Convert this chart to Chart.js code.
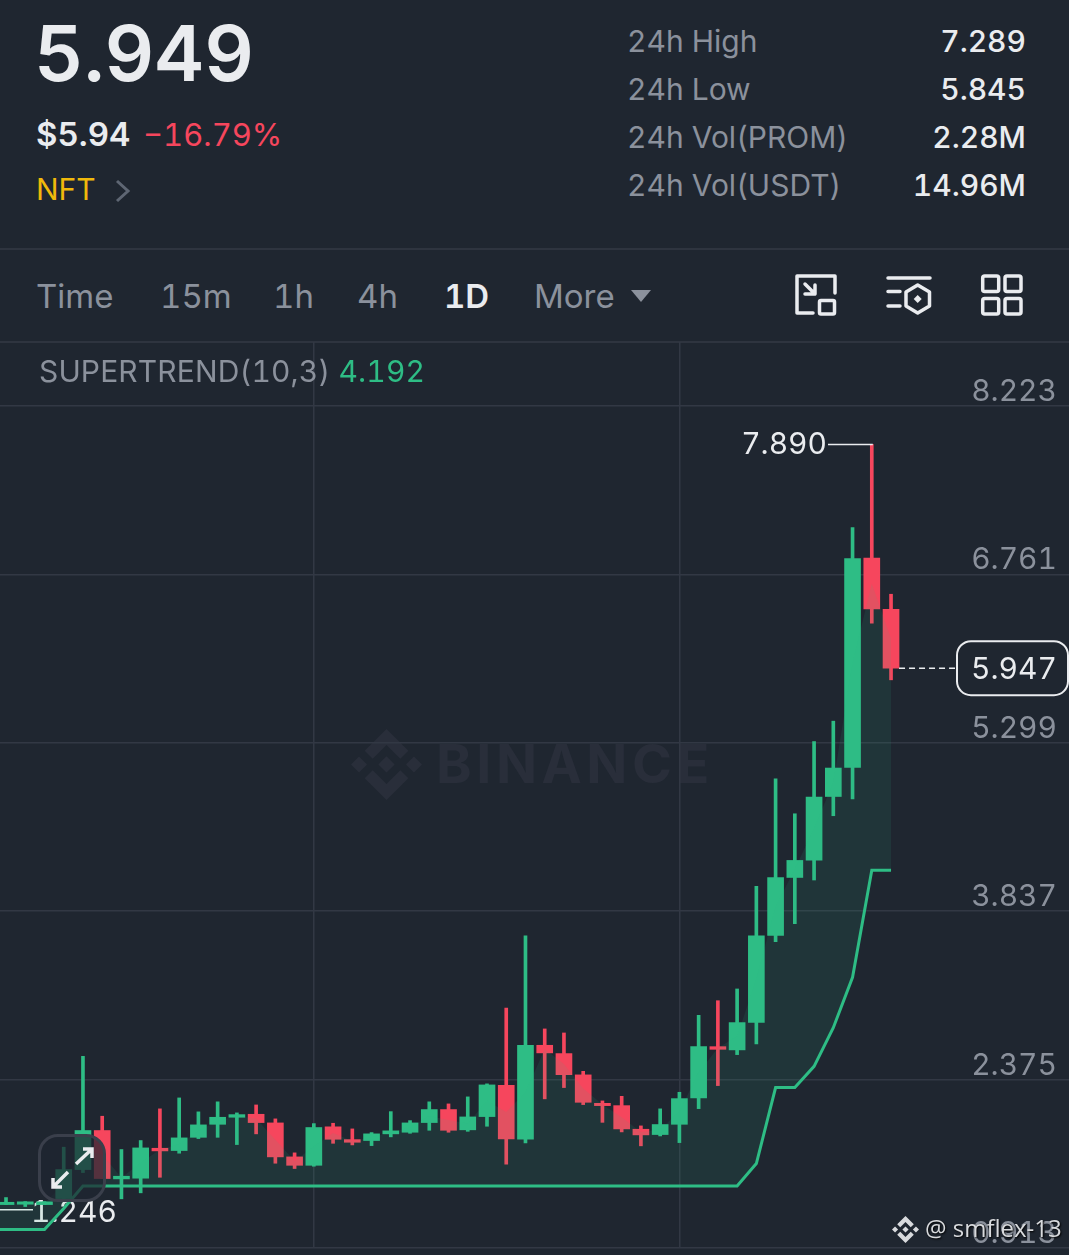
<!doctype html>
<html lang="en">
<head>
<meta charset="utf-8">
<title>PROM/USDT</title>
<script src="https://cdn.jsdelivr.net/npm/chart.js@4/dist/chart.umd.min.js"></script>
<style>
  * { margin: 0; padding: 0; box-sizing: border-box; }
  body { width: 1069px; height: 1255px; background: #1f2630; overflow: hidden; position: relative; font-family: Inter, sans-serif; font-variant-numeric: tabular-nums; font-feature-settings: "tnum"; }
  .t { position: absolute; white-space: nowrap; line-height: 1; }
  .grey { color: #8b919c; }
  .white { color: #eaecef; }
  .stat { font-size: 30px; color: #8b919c; left: 627px; }
  .val { font-size: 30px; color: #eaecef; right: 43px; font-weight: 500; }
  .tab { font-size: 33px; color: #8b919c; top: 280px; }
  .rule { position: absolute; left: 0; width: 1069px; height: 2px; background: #2e343f; }
  canvas { position: absolute; left: 0; top: 342px; }
  svg { position: absolute; overflow: visible; }
</style>
</head>
<body>

<div class="t white" style="left:34px;top:15px;font-size:77px;font-weight:600">5.949</div>
<div class="t white" style="left:36px;top:118px;font-size:33px;font-weight:600">$5.94</div>
<div class="t" style="left:143px;top:119px;font-size:31px;color:#f6465d">−16.79%</div>
<div class="t" style="left:36px;top:174px;font-size:30px;color:#f0b90b">NFT</div>
<svg style="left:0;top:0" width="1069" height="250"><polyline points="117,181 128,191 117,201" fill="none" stroke="#5e6673" stroke-width="3"/></svg>

<div class="t stat" style="top:26px">24h High</div>
<div class="t stat" style="top:74px">24h Low</div>
<div class="t stat" style="top:122px">24h Vol(PROM)</div>
<div class="t stat" style="top:170px">24h Vol(USDT)</div>
<div class="t val" style="top:26px">7.289</div>
<div class="t val" style="top:74px">5.845</div>
<div class="t val" style="top:122px">2.28M</div>
<div class="t val" style="top:170px">14.96M</div>

<div class="rule" style="top:248px"></div>

<div class="t tab" style="left:36px">Time</div>
<div class="t tab" style="left:160px">15m</div>
<div class="t tab" style="left:273px">1h</div>
<div class="t tab" style="left:357px">4h</div>
<div class="t tab" style="left:444px;color:#eaecef;font-weight:600">1D</div>
<div class="t tab" style="left:534px">More</div>
<svg style="left:0;top:250px" width="1069" height="90">
  <polygon points="631,40 651,40 641,52" fill="#8b919c"/>
  <g transform="translate(760,0)" fill="none" stroke="#eaecef" stroke-width="3.5" stroke-linejoin="round" stroke-linecap="round">
    <path d="M53,63 H37 V26 H75 V43"/>
    <rect x="59.5" y="50.5" width="15" height="13.5" rx="1.5"/>
    <path d="M45,34 L55,44 M45,44 H55 V35"/>
    <path d="M128,28 H170 M128,41.5 H140 M128,56 H140"/>
    <polygon points="157.7,35 169.5,42 169.5,56 157.7,63 146,56 146,42"/>
    <polygon points="157.7,45 161.7,49 157.7,53 153.7,49" fill="#eaecef" stroke="none"/>
    <rect x="222.7" y="26" width="16" height="15.5" rx="2"/>
    <rect x="245" y="26" width="16" height="15.5" rx="2"/>
    <rect x="222.7" y="48.5" width="16" height="15.5" rx="2"/>
    <rect x="245" y="48.5" width="16" height="15.5" rx="2"/>
  </g>
</svg>
<div class="rule" style="top:341px"></div>

<!-- watermark sits under the canvas -->
<svg style="left:351px;top:729px" width="71" height="71" viewBox="0 0 126.61 126.61"><path fill="#292e3a" d="M38.73 53.2l24.59-24.58 24.6 24.6 14.3-14.31L63.32 0 24.43 38.9zM0 63.31L14.3 49l14.31 14.31-14.31 14.3zM38.73 73.41l24.59 24.59 24.6-24.6 14.31 14.29-38.9 38.91-38.9-38.88-.02-.02zM97.99 63.31l14.3-14.31 14.32 14.3-14.31 14.32zM77.83 63.3L63.32 48.78 52.59 59.51l-1.24 1.23-2.54 2.54 14.51 14.5 14.51-14.47z"/></svg>
<div class="t" style="left:436px;top:737px;font-size:54px;font-weight:700;color:#292e3a;letter-spacing:4.5px">BINANCE</div>

<canvas id="myChart" width="1069" height="913"></canvas>

<div class="t grey" style="left:39px;top:356px;font-size:30px;letter-spacing:.15px">SUPERTREND(10,3) <span style="color:#2ebd85">4.192</span></div>

<div style="position:absolute;left:38px;top:1134px;width:68px;height:68px;border:3px solid #3a3f4b;border-radius:20px;background:rgba(31,38,48,.72)"></div>
<svg style="left:0;top:1100px" width="120" height="100"><g fill="none" stroke="#eaecef" stroke-width="3.5"><path d="M76,64 L92,49 M83,49 H92 V58"/><path d="M68,72 L53,87 M53,78 V87 H62"/></g></svg>

<svg style="left:892px;top:1216px" width="27" height="27" viewBox="0 0 126.61 126.61"><path fill="#d8dadd" d="M38.73 53.2l24.59-24.58 24.6 24.6 14.3-14.31L63.32 0 24.43 38.9zM0 63.31L14.3 49l14.31 14.31-14.31 14.3zM38.73 73.41l24.59 24.59 24.6-24.6 14.31 14.29-38.9 38.91-38.9-38.88-.02-.02zM97.99 63.31l14.3-14.31 14.32 14.3-14.31 14.32zM77.83 63.3L63.32 48.78 52.59 59.51l-1.24 1.23-2.54 2.54 14.51 14.5 14.51-14.47z"/></svg>
<div class="t" style="left:925px;top:1216px;font-size:24px;color:#d8dadd;font-family:'Open Sans',sans-serif;text-shadow:1px 1px 2px #000">@ smflex-13</div>

<script>
const days = [0,1,2,3,4,5,6,7,8,9,10,11,12,13,14,15,16,17,18,19,20,21,22,23,24,25,26,27,28,29,30,31,32,33,34,35,36,37,38,39,40,41,42,43,44,45,46,47];
const opens = [1.300,1.290,1.293,1.290,1.342,1.594,1.933,1.513,1.519,1.779,1.759,1.874,1.987,2.048,2.074,1.999,1.704,1.631,1.965,1.854,1.846,1.904,1.918,2.002,2.115,1.939,2.054,2.326,1.857,2.673,2.601,2.416,2.169,2.149,1.944,1.898,1.987,2.216,2.661,2.633,2.872,3.627,4.130,4.281,4.833,5.085,6.904,6.459];
const closes = [1.290,1.310,1.314,1.314,1.594,1.933,1.516,1.536,1.782,1.756,1.869,1.982,2.048,2.071,2.002,1.704,1.631,1.959,1.857,1.831,1.904,1.930,1.999,2.115,1.935,2.051,2.329,1.860,2.673,2.607,2.418,2.178,2.149,1.947,1.895,1.985,2.210,2.661,2.638,2.870,3.624,4.128,4.278,4.828,5.080,6.898,6.462,5.947];
const highs = [1.320,1.351,1.316,1.316,1.788,2.577,2.057,1.768,1.846,2.121,2.216,2.095,2.182,2.086,2.155,2.034,1.739,1.993,1.996,1.947,1.915,2.097,2.019,2.182,2.164,2.225,2.338,2.997,3.624,2.815,2.780,2.447,2.190,2.230,1.973,2.121,2.265,2.933,3.060,3.162,4.052,4.987,4.683,5.310,5.487,7.167,7.890,6.589];
const lows = [1.246,1.290,1.273,1.290,1.334,1.568,1.516,1.340,1.392,1.527,1.736,1.863,1.874,1.811,1.904,1.649,1.603,1.623,1.822,1.808,1.802,1.878,1.909,1.935,1.918,1.926,1.970,1.640,1.826,2.208,2.306,2.158,2.004,1.921,1.800,1.886,1.828,2.123,2.323,2.592,2.685,3.572,3.729,4.108,4.666,4.811,6.338,5.846];
// top edge of the shaded area, runs through the middle of the bodies
const bodyMids = [1.295,1.300,1.304,1.302,1.468,1.764,1.725,1.525,1.651,1.768,1.814,1.928,2.018,2.060,2.038,1.852,1.668,1.795,1.911,1.843,1.875,1.917,1.959,2.059,2.025,1.995,2.192,2.093,2.265,2.640,2.510,2.297,2.159,2.048,1.920,1.942,2.099,2.439,2.650,2.752,3.248,3.878,4.204,4.555,4.957,5.992,6.683,6.203];
const superTrend = [1.073,1.073,1.073,1.073,1.256,1.451,1.451,1.451,1.451,1.451,1.451,1.451,1.451,1.451,1.451,1.451,1.451,1.451,1.451,1.451,1.451,1.451,1.451,1.451,1.451,1.451,1.451,1.451,1.451,1.451,1.451,1.451,1.451,1.451,1.451,1.451,1.451,1.451,1.451,1.451,1.646,2.306,2.306,2.490,2.826,3.263,4.192,4.192];
const priceTicks = [0.913,2.375,3.837,5.299,6.761,8.223];
const gridDays = [17,36];
const highLabel = '7.890';
const lowLabel = '1.246';
const lastPrice = 5.947;

const GREEN = '#2ebd85';
const RED = '#f6465d';
const candleColors = days.map((d, i) => closes[i] >= opens[i] ? GREEN : RED);

// labels, dashed last price line and its box
const pricePlugin = {
  id: 'priceMarks',
  beforeDatasetsDraw(chart) {
    const {ctx, scales: {y}} = chart;
    const py = y.getPixelForValue(Math.min(...lows));
    ctx.save();
    ctx.strokeStyle = '#eaecef';
    ctx.lineWidth = 1.5;
    ctx.beginPath();
    ctx.moveTo(0, py);
    ctx.lineTo(33, py);
    ctx.stroke();
    ctx.fillStyle = '#eaecef';
    ctx.font = '30px Inter';
    ctx.textBaseline = 'middle';
    ctx.fillText(lowLabel, 31, py + 3);
    ctx.restore();
  },
  afterDraw(chart) {
    const {ctx, scales: {x, y}} = chart;
    ctx.save();
    ctx.font = '30px Inter';
    ctx.textBaseline = 'middle';
    ctx.fillStyle = '#eaecef';
    ctx.strokeStyle = '#eaecef';

    const hy = y.getPixelForValue(Math.max(...highs));
    const hx = x.getPixelForValue(days[highs.indexOf(Math.max(...highs))]);
    ctx.lineWidth = 1.5;
    ctx.beginPath();
    ctx.moveTo(828, hy);
    ctx.lineTo(hx + 1, hy);
    ctx.stroke();
    ctx.textAlign = 'right';
    ctx.fillText(highLabel, 827, hy + 1);

    const ly = y.getPixelForValue(lastPrice);
    const lx = x.getPixelForValue(days[days.length - 1]);
    ctx.setLineDash([6, 4]);
    ctx.beginPath();
    ctx.moveTo(lx + 8, ly);
    ctx.lineTo(955, ly);
    ctx.stroke();
    ctx.setLineDash([]);
    ctx.lineWidth = 2;
    ctx.fillStyle = '#1f2630';
    ctx.beginPath();
    ctx.roundRect(957, ly - 27, 111, 54, 14);
    ctx.fill();
    ctx.stroke();
    ctx.fillStyle = '#eaecef';
    ctx.textAlign = 'left';
    ctx.fillText(lastPrice.toFixed(3), 971, ly + 2);
    ctx.restore();
  }
};

const noPad = (s) => { s.paddingTop = 0; s.paddingBottom = 0; s.paddingLeft = 0; s.paddingRight = 0; };

new Chart(document.getElementById('myChart'), {
  type: 'bar',
  data: {
    datasets: [
      {
        label: 'wick',
        order: 4,
        grouped: false,
        barThickness: 3,
        backgroundColor: candleColors,
        data: days.map((d, i) => ({x: d, y: [lows[i], highs[i]]}))
      },
      {
        label: 'body',
        order: 3,
        grouped: false,
        barThickness: 16,
        backgroundColor: candleColors,
        data: days.map((d, i) => ({x: d, y: [opens[i], closes[i]]}))
      },
      {
        type: 'line',
        label: 'shade',
        order: 2,
        borderWidth: 0,
        pointRadius: 0,
        fill: {target: '+1', above: 'rgba(46,189,133,0.1)', below: 'rgba(46,189,133,0.1)'},
        data: days.map((d, i) => ({x: d, y: bodyMids[i]}))
      },
      {
        type: 'line',
        label: 'SUPERTREND',
        order: 1,
        borderColor: GREEN,
        borderWidth: 3,
        pointRadius: 0,
        fill: false,
        data: days.map((d, i) => ({x: d, y: superTrend[i]}))
      }
    ]
  },
  options: {
    responsive: false,
    animation: false,
    devicePixelRatio: 1,
    layout: {padding: {left: 0, right: 0, top: 0, bottom: 7}},
    plugins: {legend: {display: false}, tooltip: {enabled: false}},
    scales: {
      x: {
        type: 'linear',
        offset: false,
        min: 0.688,
        max: 56.25,
        afterBuildTicks: (s) => { s.ticks = gridDays.map(v => ({value: v})); },
        afterFit: (s) => { s.height = 0; noPad(s); },
        ticks: {display: false},
        border: {display: false},
        grid: {offset: false, color: '#323844', lineWidth: 1.5, drawTicks: false}
      },
      y: {
        type: 'linear',
        position: 'right',
        min: 0.913,
        max: 8.779,
        afterBuildTicks: (s) => { s.ticks = priceTicks.map(v => ({value: v})); },
        afterFit: (s) => { s.width = 0; noPad(s); },
        border: {display: false},
        grid: {color: '#323844', lineWidth: 1.5, drawTicks: false},
        ticks: {
          mirror: true,
          padding: -12,
          labelOffset: -14,
          color: '#8b919c',
          font: {family: 'Inter', size: 30},
          callback: (v) => v.toFixed(3)
        }
      }
    }
  },
  plugins: [pricePlugin]
});
</script>
</body>
</html>
